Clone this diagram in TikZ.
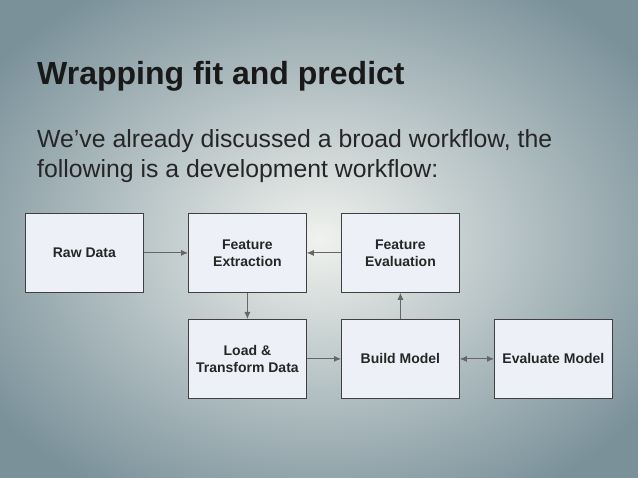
\documentclass[tikz,border=0pt]{standalone}
\usepackage{fontspec}
\setmainfont{Liberation Sans}
\usetikzlibrary{arrows.meta}
\definecolor{bgin}{HTML}{F0F2EE}
\definecolor{bgout}{HTML}{7A919A}
\definecolor{boxfill}{HTML}{EDF1F7}
\begin{document}
\begin{tikzpicture}[x=1pt,y=-1pt,
  box/.style={draw=black!75,line width=0.8pt,fill=boxfill,minimum width=118pt,minimum height=79pt,anchor=north west,align=center,font=\bfseries\fontsize{14}{17}\selectfont,text=black!85},
  conn/.style={draw=black!60,line width=0.8pt,-{Latex[length=7pt,width=6pt]}}]
\useasboundingbox (0,0) rectangle (638,478);
\shade[inner color=bgin,outer color=bgout] (-80,-60) rectangle (718,538);
\node[anchor=base west,font=\bfseries\fontsize{32}{36}\selectfont,text=black!90,inner sep=0] (title) at (37,85) {Wrapping fit and predict};
\node[anchor=base west,align=left,font=\fontsize{24.8}{30}\selectfont,text=black!85,inner sep=0] (body) at (37,178) {We’ve already discussed a broad workflow, the\\following is a development workflow:};
\node[box] (raw) at (25,213) {Raw Data};
\node[box] (fx) at (188,213) {Feature\\Extraction};
\node[box] (fe) at (341,213) {Feature\\Evaluation};
\node[box] (ld) at (188,319) {Load \&\\Transform Data};
\node[box] (bm) at (341,319) {Build Model};
\node[box] (em) at (494,319) {Evaluate Model};
\draw[conn] (raw) -- (fx);
\draw[conn] (fe) -- (fx);
\draw[conn] (fx) -- (ld);
\draw[conn] (ld) -- (bm);
\draw[conn] (bm) -- (fe);
\draw[conn,{Latex[length=7pt,width=6pt]}-{Latex[length=7pt,width=6pt]}] (bm) -- (em);
\end{tikzpicture}
\end{document}
